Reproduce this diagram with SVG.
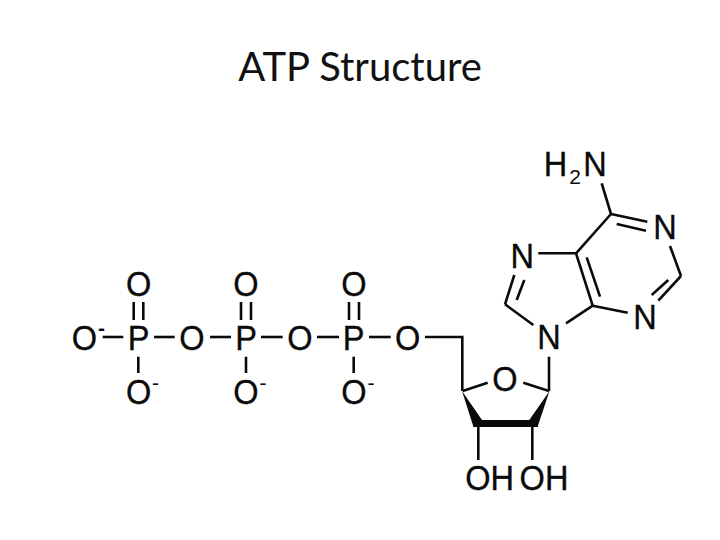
<svg xmlns="http://www.w3.org/2000/svg" width="720" height="540" viewBox="0 0 720 540">
<style>
text{font-family:"Liberation Sans",Arial,sans-serif;font-size:35px;fill:#0a0a0a;text-anchor:middle}
.a{stroke:#0a0a0a;stroke-width:.35;transform-box:fill-box;transform-origin:center;transform:scaleX(.93)}
.t{font-family:Lato,Carlito,sans-serif;font-size:40px;fill:#111}
.m{font-size:21px}
.s{font-size:21px}
.c line,.c polyline{stroke:#0a0a0a;stroke-width:2.6;fill:none}
.c polygon{fill:#0a0a0a;stroke:none}
</style>
<rect width="720" height="540" fill="#fff"/>
<text id="title" class="t" x="360" y="81">ATP Structure</text>
<g id="connectors" class="c">
<line x1="133.7" y1="302" x2="133.7" y2="320"/><line x1="143.3" y1="302" x2="143.3" y2="320"/>
<line x1="102.7" y1="337" x2="123.3" y2="337"/><line x1="154" y1="337" x2="174.7" y2="337"/>
<line x1="138.3" y1="356.7" x2="138.3" y2="373"/>
<line x1="241" y1="302" x2="241" y2="320"/><line x1="251" y1="302" x2="251" y2="320"/>
<line x1="210" y1="337" x2="231" y2="337"/><line x1="261" y1="337" x2="282.7" y2="337"/>
<line x1="246" y1="356.7" x2="246" y2="373"/>
<line x1="349" y1="302" x2="349" y2="320"/><line x1="359" y1="302" x2="359" y2="320"/>
<line x1="317" y1="337" x2="339" y2="337"/><line x1="369" y1="337" x2="390.7" y2="337"/>
<line x1="353.7" y1="356.7" x2="353.7" y2="373"/>
<polyline points="425,337 462.3,337 462.3,391"/>
<line x1="462.7" y1="391" x2="487.7" y2="382.7"/><line x1="549" y1="391" x2="523.3" y2="382.7"/>
<line x1="549" y1="391" x2="549" y2="356.7"/>
<polygon points="462,391 473.5,427 482,420"/>
<polygon points="473.5,420 538,420 538,427 473.5,427"/>
<polygon points="549.5,391 529.3,420 537.5,427"/>
<line x1="478.3" y1="427" x2="478.3" y2="460"/><line x1="532.3" y1="427" x2="532.3" y2="460"/>
<line x1="601.7" y1="183.3" x2="611" y2="214"/>
<line x1="611" y1="214" x2="647.3" y2="221.7"/><line x1="616.7" y1="224" x2="646" y2="230.7"/>
<line x1="670" y1="246" x2="681" y2="276"/>
<line x1="681" y1="276" x2="658.3" y2="300.7"/><line x1="668.3" y1="280" x2="651.7" y2="295"/>
<line x1="627.7" y1="312.7" x2="592.7" y2="305.7"/>
<line x1="592.7" y1="305.7" x2="576" y2="253.3"/><line x1="600" y1="296.7" x2="586.7" y2="257.3"/>
<line x1="576" y1="253.3" x2="611" y2="214"/>
<line x1="538.3" y1="253.3" x2="576" y2="253.3"/>
<line x1="514.3" y1="275" x2="505" y2="304.3"/><line x1="524.3" y1="280" x2="516.7" y2="300"/>
<line x1="505" y1="304.3" x2="533.3" y2="325"/>
<line x1="566" y1="323.3" x2="592.7" y2="305.7"/>
</g>
<g id="p1"><text class="a" x="138.5" y="350">P</text></g>
<g id="p2"><text class="a" x="246" y="350">P</text></g>
<g id="p3"><text class="a" x="353.5" y="350">P</text></g>
<g id="o1"><text class="a" x="138.7" y="296.5">O</text></g>
<g id="o2"><text class="a" x="246" y="296.5">O</text></g>
<g id="o3"><text class="a" x="354" y="296.5">O</text></g>
<g id="o4"><text class="a" x="84.3" y="350.5">O</text><text class="m" x="101.5" y="335" font-weight="bold">-</text></g>
<g id="o5"><text class="a" x="192" y="350.5">O</text></g>
<g id="o6"><text class="a" x="300" y="350.5">O</text></g>
<g id="o7"><text class="a" x="407.7" y="350.5">O</text></g>
<g id="o8"><text class="a" x="138.7" y="404.5">O</text><text class="m" x="155.5" y="390">-</text></g>
<g id="o9"><text class="a" x="246" y="404.5">O</text><text class="m" x="263" y="390">-</text></g>
<g id="o10"><text class="a" x="354" y="404.5">O</text><text class="m" x="371" y="390">-</text></g>
<g id="o11"><text class="a" x="505" y="391">O</text></g>
<g id="n1"><text class="a" x="549" y="349">N</text></g>
<g id="n2"><text class="a" x="522.3" y="268">N</text></g>
<g id="n3"><text class="a" x="645" y="329.5">N</text></g>
<g id="n4"><text class="a" x="665" y="239">N</text></g>
<g id="nh2"><text class="a" x="555.5" y="176">H</text><text class="s" x="575" y="184">2</text><text class="a" x="595" y="176">N</text></g>
<g id="oh1"><text class="a" x="489.7" y="490">OH</text></g>
<g id="oh2"><text class="a" x="544" y="490">OH</text></g>
</svg>
